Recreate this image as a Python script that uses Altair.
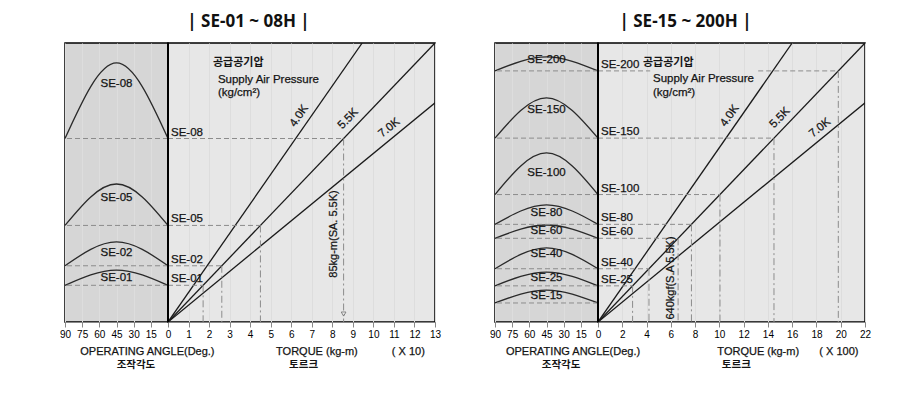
import altair as alt
import pandas as pd

# ---------------- data ----------------
# values on the vertical scale = actuator torque at 5.5 kgf/cm2 (same units as the torque axis)
L_models = ["SE-08", "SE-05", "SE-02", "SE-01"]
L_level = [8.55, 4.5, 2.62, 1.71]
L_peak = [12.07, 6.43, 3.73, 2.42]
L_arc_label = [11.09, 5.78, 3.22, 2.05]
L_torque_side = [True, True, True, True]

R_models = ["SE-200", "SE-150", "SE-100", "SE-80", "SE-60", "SE-40", "SE-25", "SE-15"]
R_level = [19.8, 14.5, 10.05, 7.7, 6.6, 4.2, 2.85, 1.5]
R_peak = [20.9, 17.67, 13.33, 9.23, 7.65, 5.84, 3.94, 2.52]
R_arc_label = [20.66, 16.72, 11.75, 8.6, 7.18, 5.36, 3.47, 2.05]
R_torque_side = [True, True, True, True, True, True, True, False]

pressures = [4.0, 5.5, 7.0]
pressure_labels = ["4.0K", "5.5K", "7.0K"]
ref_pressure = 5.5

angle_ticks = [90, 75, 60, 45, 30, 15, 0]
L_torque_ticks = list(range(1, 14))
R_torque_ticks = list(range(2, 23, 2))

titles = ["| SE-01 ~ 08H |", "| SE-15 ~ 200H |"]
scale_notes = ["( X 10)", "( X 100)"]
rated_notes = ["85kg-m(SA. 5.5K)", "640kgf(S.A 5.5K)"]
supply_lines = ["공급공기압", "Supply Air Pressure", "(kg/cm²)"]

# annotation anchors (in data units of each panel)
L_press_label_pos = [(6.39, 9.6), (8.78, 9.46), (10.78, 9.04)]
R_press_label_pos = [(10.87, 16.25), (15.0, 16.09), (18.3, 15.3)]
L_supply_pos = [(2.19, 12.07), (2.43, 11.28), (2.43, 10.67)]
R_supply_pos = [(3.7, 20.43), (4.53, 19.16), (4.53, 18.06)]
L_rated_pos = (8.08, 4.1)
R_rated_pos = (6.0, 3.47)
L_bottom = {"angle_en": 18, "angle_ko": 28, "tq_en": 7.25, "tq_ko": 6.6, "note": 11.7}
R_bottom = {"angle_en": 21.8, "angle_ko": 32.3, "tq_en": 13.2, "tq_ko": 11.4, "note": 19.85}

# ---------------- style ----------------
FONT = "Liberation Sans"
KFONT = "Noto Sans CJK KR"
INK = "#141414"
ANG_FILL = "#d6d6d6"
TQ_FILL = "#e7e7e7"
DASH_C = "#8c8c8c"
ANG_W, TQ_W, H, GAP = 103, 267, 279, 60
PRESS_ANGLES = [305, 314, 321]
EN_Y, KO_Y = 309, 322
TXT = dict(font=FONT, fontSize=11.5, color=INK, stroke=INK, strokeWidth=0.25)


def angle_chart(models, level, peak, arc_lab, ymax, bottom):
    rows = []
    for m, b, p in zip(models, level, peak):
        for a, v in ((90, b), (45, p), (0, b)):
            rows.append({"model": m, "angle": a, "v": v})
    arcs = pd.DataFrame(rows)
    base = pd.DataFrame({"model": models, "level": level, "lab": arc_lab, "mid": [45] * len(models)})
    xs = alt.Scale(domain=[90, 0], nice=False, zero=False)
    ys = alt.Scale(domain=[0, ymax], nice=False, zero=False)
    xaxis = alt.Axis(values=angle_ticks, title=None, labelFlush=False, labelOverlap=False)

    def X(f):
        return alt.X(f, scale=xs, axis=xaxis)

    arc_layer = alt.Chart(arcs).mark_line(interpolate="natural", color="#2a2a2a", strokeWidth=1.3).encode(
        x=X("angle:Q"), y=alt.Y("v:Q", scale=ys, axis=None), detail="model:N",
    )
    dash = alt.Chart(base).mark_rule(color=DASH_C, strokeDash=[5, 3], strokeWidth=1).encode(
        y=alt.Y("level:Q", scale=ys, axis=None)
    )
    labels = alt.Chart(base).mark_text(baseline="middle", **TXT).encode(
        x=X("mid:Q"), y=alt.Y("lab:Q", scale=ys, axis=None), text="model:N"
    )
    bt = pd.DataFrame({"t": ["OPERATING ANGLE(Deg.)"], "x": [bottom["angle_en"]]})
    en = alt.Chart(bt).mark_text(baseline="middle", **dict(TXT, fontSize=11)).encode(
        x=X("x:Q"), y=alt.value(EN_Y), text="t:N"
    )
    bk = pd.DataFrame({"t": ["조작각도"], "x": [bottom["angle_ko"]]})
    ko = alt.Chart(bk).mark_text(font=KFONT, fontSize=10.5, fontWeight="bold", color=INK,
                                 baseline="middle").encode(
        x=X("x:Q"), y=alt.value(KO_Y), text="t:N"
    )
    return alt.layer(arc_layer, dash, labels, en, ko).properties(
        width=ANG_W, height=H, view=alt.ViewBackground(fill=ANG_FILL, stroke="black", strokeWidth=1.5)
    )


def torque_chart(models, level, torque_side, xmax, ymax, ticks, press_pos, supply_pos,
                 rated_pos, rated_text, note, bottom, arrow, ttl, ttl_dx, gap=None):
    xs = alt.Scale(domain=[0, xmax], nice=False, zero=False)
    ys = alt.Scale(domain=[0, ymax], nice=False, zero=False)
    xaxis = alt.Axis(values=ticks, title=None, labelFlush=False, labelOverlap=False)

    def X(f):
        return alt.X(f, scale=xs, axis=xaxis)

    def Y(f):
        return alt.Y(f, scale=ys, axis=None)

    pl = []
    for p, lab in zip(pressures, pressure_labels):
        pl.append({"p": lab, "x": 0.0, "y": 0.0})
        pl.append({"p": lab, "x": ymax * p / ref_pressure, "y": ymax})
    pl = pd.DataFrame(pl)
    plines = alt.Chart(pl).mark_line(color="#1a1a1a", strokeWidth=1.3, clip=True).encode(
        x=X("x:Q"), y=Y("y:Q"), detail="p:N",
    )

    sel = [(m, l) for m, l, s in zip(models, level, torque_side) if s]
    hrows = []
    for m, l in sel:
        if gap is not None and m == gap[0]:
            hrows.append({"model": m, "xs": 0.0, "xe": gap[1], "level": l})
            hrows.append({"model": m, "xs": gap[2], "xe": l, "level": l})
        else:
            hrows.append({"model": m, "xs": 0.0, "xe": l, "level": l})
    hdf = pd.DataFrame(hrows)
    sdf = pd.DataFrame({"model": [m for m, _ in sel], "level": [l for _, l in sel],
                        "zero": [0.0] * len(sel)})

    hdash = alt.Chart(hdf).mark_rule(color=DASH_C, strokeDash=[5, 3], strokeWidth=1).encode(
        x=X("xs:Q"), x2="xe:Q", y=Y("level:Q")
    )
    vdash = alt.Chart(sdf).mark_rule(color=DASH_C, strokeDash=[7, 3, 2, 3], strokeWidth=1).encode(
        x=X("level:Q"), y=Y("level:Q"), y2="zero:Q"
    )
    mlabels = alt.Chart(sdf).mark_text(align="left", baseline="alphabetic", dx=3, dy=-3, **TXT).encode(
        x=X("zero:Q"), y=Y("level:Q"), text="model:N"
    )
    pdf = pd.DataFrame({"t": pressure_labels, "x": [a for a, _ in press_pos],
                        "y": [b for _, b in press_pos]})
    plabels = [
        alt.Chart(pdf.iloc[[i]]).mark_text(angle=PRESS_ANGLES[i], baseline="middle", **TXT).encode(
            x=X("x:Q"), y=Y("y:Q"), text="t:N")
        for i in range(3)
    ]
    sup = pd.DataFrame({"t": supply_lines, "x": [a for a, _ in supply_pos], "y": [b for _, b in supply_pos]})
    sup_ko = alt.Chart(sup.iloc[[0]]).mark_text(font=KFONT, fontSize=11, fontWeight="bold", color=INK,
                                               align="left", baseline="middle").encode(
        x=X("x:Q"), y=Y("y:Q"), text="t:N")
    sup_en = alt.Chart(sup.iloc[[1, 2]]).mark_text(align="left", baseline="middle", **TXT).encode(
        x=X("x:Q"), y=Y("y:Q"), text="t:N")
    rdf = pd.DataFrame({"t": [rated_text], "x": [rated_pos[0]], "y": [rated_pos[1]]})
    rated = alt.Chart(rdf).mark_text(angle=270, baseline="middle", **dict(TXT, fontSize=11)).encode(
        x=X("x:Q"), y=Y("y:Q"), text="t:N")
    divider = alt.Chart(pd.DataFrame({"x": [0.0]})).mark_rule(color="black", strokeWidth=2).encode(
        x=X("x:Q"))
    b1 = pd.DataFrame({"t": ["TORQUE (kg-m)", note], "x": [bottom["tq_en"], bottom["note"]]})
    en = alt.Chart(b1).mark_text(baseline="middle", **dict(TXT, fontSize=11)).encode(
        x=X("x:Q"), y=alt.value(EN_Y), text="t:N")
    b2 = pd.DataFrame({"t": ["토르크"], "x": [bottom["tq_ko"]]})
    ko = alt.Chart(b2).mark_text(font=KFONT, fontSize=10.5, fontWeight="bold", color=INK,
                                 baseline="middle").encode(
        x=X("x:Q"), y=alt.value(KO_Y), text="t:N")
    layers = [plines, hdash, vdash, divider, mlabels] + plabels + [sup_ko, sup_en, rated, en, ko]
    if arrow:
        a = sdf.iloc[[0]].assign(y0=0.37)
        layers.append(alt.Chart(a).mark_point(shape="triangle-down", size=22, filled=True, fill="white",
                                              stroke="#555", strokeWidth=1).encode(
            x=X("level:Q"), y=Y("y0:Q")))
    return alt.layer(*layers).properties(
        width=TQ_W, height=H,
        view=alt.ViewBackground(fill=TQ_FILL, stroke="black", strokeWidth=1.5),
        title=alt.Title(ttl, anchor="middle", frame="group", dx=ttl_dx, font="Noto Sans", fontSize=17,
                        fontWeight="bold", color="#111", offset=11),
    )


spacer = alt.Chart(pd.DataFrame({"x": [0.0]})).mark_point(opacity=0).encode(
    x=alt.X("x:Q", axis=None), y=alt.Y("x:Q", axis=None)
).properties(width=GAP, height=H, view=alt.ViewBackground(stroke="transparent", fill="transparent"))

chart = alt.hconcat(
    angle_chart(L_models, L_level, L_peak, L_arc_label, 13, L_bottom),
    torque_chart(L_models, L_level, L_torque_side, 13, 13, L_torque_ticks, L_press_label_pos,
                 L_supply_pos, L_rated_pos, rated_notes[0], scale_notes[0], L_bottom, True,
                 titles[0], -53),
    spacer,
    angle_chart(R_models, R_level, R_peak, R_arc_label, 22, R_bottom),
    torque_chart(R_models, R_level, R_torque_side, 22, 22, R_torque_ticks, R_press_label_pos,
                 R_supply_pos, R_rated_pos, rated_notes[1], scale_notes[1], R_bottom, False,
                 titles[1], -46, gap=("SE-200", 4.3, 13.2)),
    spacing=0, bounds="flush",
).properties(
    padding={"left": 50, "top": 4, "right": 5, "bottom": 5}
).configure_view(stroke="black", strokeWidth=1.5).configure_axis(
    grid=False, domainColor="black", domainWidth=1.5, tickColor="black", tickSize=5, tickWidth=1.2,
    labelFont=FONT, labelFontSize=11, labelColor=INK, labelPadding=2, labelOverlap=False,
).configure(background="white")

chart.save("out.html", embed_options={"renderer": "svg", "actions": False})
